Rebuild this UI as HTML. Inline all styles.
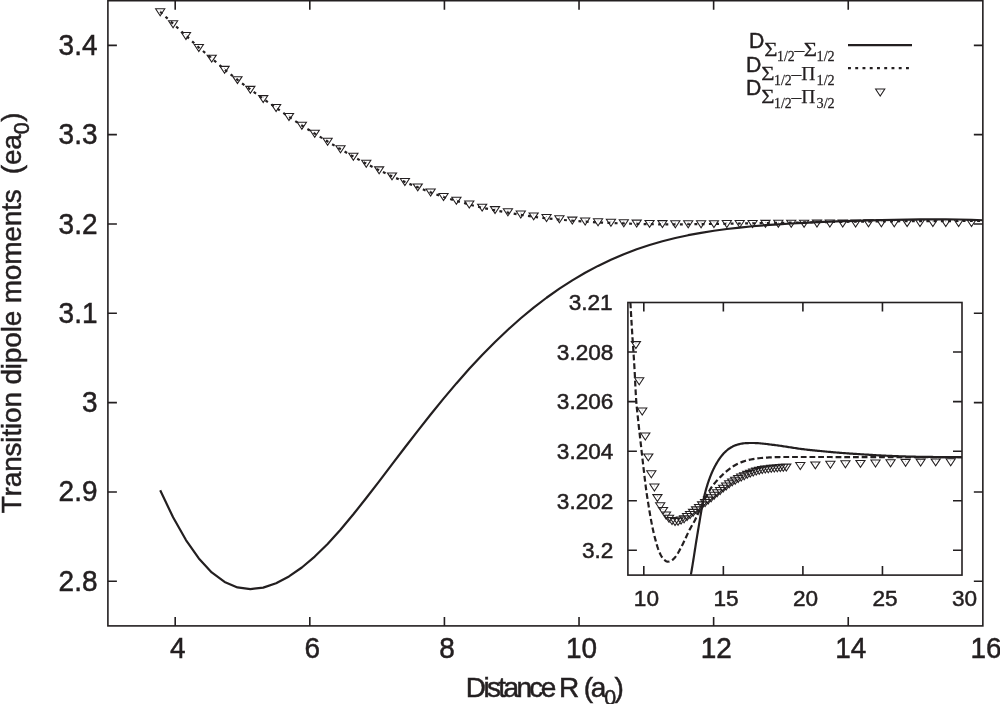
<!DOCTYPE html>
<html lang="en"><head><meta charset="utf-8"><title>Transition dipole moments</title>
<style>html,body{margin:0;padding:0;background:#fff}svg{display:block}text{font-family:"Liberation Sans",sans-serif;fill:#231f20;stroke:#231f20;stroke-width:0.5px;font-kerning:none}.s{font-family:"Liberation Serif",serif;stroke-width:0.25px}</style></head><body>
<svg width="1000" height="704" viewBox="0 0 1000 704">
<rect width="1000" height="704" fill="#fff"/>
<g fill="none" stroke="#231f20" stroke-width="1.6">
<rect x="107.9" y="0.7" width="874.95" height="625.20"/>
<path d="M175.20,625.9v-9.0M175.20,0.7v9.0M309.81,625.9v-9.0M309.81,0.7v9.0M444.42,625.9v-9.0M444.42,0.7v9.0M579.03,625.9v-9.0M579.03,0.7v9.0M713.63,625.9v-9.0M713.63,0.7v9.0M848.24,625.9v-9.0M848.24,0.7v9.0M107.9,581.24h9.0M982.85,581.24h-9.0M107.9,491.93h9.0M982.85,491.93h-9.0M107.9,402.61h9.0M982.85,402.61h-9.0M107.9,313.30h9.0M982.85,313.30h-9.0M107.9,223.99h9.0M982.85,223.99h-9.0M107.9,134.67h9.0M982.85,134.67h-9.0M107.9,45.36h9.0M982.85,45.36h-9.0"/>
<rect x="627.9" y="302.5" width="334.10" height="272.60"/>
<path d="M643.81,575.1v-9.0M643.81,302.5v9.0M723.36,575.1v-9.0M723.36,302.5v9.0M802.90,575.1v-9.0M802.90,302.5v9.0M882.45,575.1v-9.0M882.45,302.5v9.0M627.9,550.32h9.0M962.0,550.32h-9.0M627.9,500.75h9.0M962.0,500.75h-9.0M627.9,451.19h9.0M962.0,451.19h-9.0M627.9,401.63h9.0M962.0,401.63h-9.0M627.9,352.06h9.0M962.0,352.06h-9.0"/>
</g>
<g fill="none" stroke="#231f20" stroke-width="2.2" stroke-linejoin="round">
<path d="M160.20,490.31 L173.08,517.27 L185.96,540.08 L198.83,558.49 L211.71,572.42 L224.59,581.97 L237.47,587.40 L250.35,589.13 L263.22,587.62 L276.10,583.28 L288.98,576.47 L301.86,567.50 L314.74,556.58 L327.61,543.92 L340.49,529.72 L353.37,514.30 L366.25,498.04 L379.13,481.32 L392.00,464.42 L404.88,447.54 L417.76,430.85 L430.64,414.52 L443.52,398.67 L456.39,383.41 L469.27,368.83 L482.15,355.00 L495.03,341.95 L507.91,329.70 L520.78,318.26 L533.66,307.61 L546.54,297.75 L559.42,288.67 L572.30,280.35 L585.17,272.77 L598.05,265.90 L610.93,259.72 L623.81,254.21 L636.69,249.31 L649.56,245.01 L662.44,241.25 L675.32,238.00 L688.20,235.20 L701.08,232.80 L713.95,230.76 L726.83,229.02 L739.71,227.54 L752.59,226.28 L765.47,225.21 L778.34,224.29 L791.22,223.51 L804.10,222.82 L816.98,222.22 L829.86,221.69 L842.73,221.22 L855.61,220.79 L868.49,220.41 L881.37,220.07 L894.25,219.78 L907.12,219.55 L920.00,219.39 L932.88,219.32 L945.76,219.34 L958.64,219.50 L971.51,219.81 L982.80,220.24"/>
<path d="M160.20,11.79 L173.08,23.70 L185.96,35.62 L198.83,47.55 L211.71,58.28 L224.59,69.55 L237.47,79.83 L250.35,89.57 L263.22,98.85 L276.10,107.73 L288.98,116.87 L301.86,125.47 L314.74,133.61 L327.61,141.51 L340.49,149.17 L353.37,156.64 L366.25,163.70 L379.13,170.26 L392.00,176.32 L404.88,181.98 L417.76,187.35 L430.64,192.40 L443.52,197.06 L456.39,200.86 L469.27,204.53 L482.15,207.78 L495.03,210.34 L507.91,212.62 L520.78,214.84 L533.66,216.80 L546.54,218.41 L559.42,219.59 L572.30,220.73 L585.17,221.61 L598.05,222.44 L610.93,222.99 L623.81,223.45 L636.69,223.89 L649.56,224.20 L662.44,224.35 L675.32,224.37 L688.20,224.25 L701.08,224.12 L713.95,223.96 L726.83,223.75 L739.71,223.52 L752.59,223.29 L765.47,223.06 L778.34,222.84 L791.22,222.62 L804.10,222.40 L816.98,222.19 L829.86,222.00 L842.73,221.82 L855.61,221.68 L868.49,221.55 L881.37,221.42 L894.25,221.30 L907.12,221.21 L920.00,221.14 L932.88,221.10 L945.76,221.05 L958.64,221.02 L971.51,221.00 L982.85,221.00" stroke-dasharray="2.9 4.35"/>
<clipPath id="ic"><rect x="627.9" y="302.5" width="334.10" height="272.60"/></clipPath>
<g clip-path="url(#ic)"><path d="M690.90,574.60 L691.12,573.39 L691.33,572.17 L691.54,570.95 L691.75,569.74 L691.95,568.52 L692.16,567.31 L692.36,566.09 L692.56,564.87 L692.76,563.65 L692.95,562.44 L693.15,561.22 L693.34,560.00 L693.53,558.78 L693.73,557.56 L693.92,556.34 L694.11,555.13 L694.30,553.91 L694.49,552.69 L694.68,551.47 L694.86,550.25 L695.05,549.03 L695.24,547.81 L695.43,546.59 L695.62,545.37 L695.81,544.16 L696.01,542.94 L696.20,541.72 L696.39,540.50 L696.59,539.28 L696.79,538.07 L696.99,536.85 L697.19,535.63 L697.39,534.41 L697.59,533.20 L697.79,531.98 L697.99,530.76 L698.20,529.55 L698.40,528.33 L698.61,527.11 L698.81,525.90 L699.02,524.68 L699.22,523.46 L699.43,522.25 L699.63,521.03 L699.83,519.81 L700.03,518.60 L700.23,517.38 L700.43,516.16 L700.64,514.95 L700.84,513.73 L701.05,512.51 L701.26,511.30 L701.47,510.08 L701.68,508.87 L701.90,507.65 L702.13,506.44 L702.36,505.23 L702.59,504.02 L702.83,502.81 L703.08,501.60 L703.34,500.39 L703.60,499.19 L703.87,497.98 L704.15,496.78 L704.43,495.58 L704.73,494.38 L705.03,493.19 L705.34,491.99 L705.65,490.80 L705.98,489.61 L706.32,488.42 L706.66,487.24 L707.02,486.06 L707.38,484.88 L707.76,483.70 L708.14,482.53 L708.53,481.36 L708.94,480.19 L709.36,479.03 L709.78,477.87 L710.22,476.72 L710.67,475.57 L711.14,474.43 L711.61,473.29 L712.10,472.15 L712.60,471.03 L713.12,469.91 L713.65,468.79 L714.20,467.69 L714.76,466.59 L715.35,465.50 L715.94,464.42 L716.56,463.35 L717.19,462.29 L717.84,461.24 L718.51,460.21 L719.20,459.18 L719.91,458.17 L720.63,457.17 L721.38,456.18 L722.15,455.22 L722.95,454.28 L723.78,453.36 L724.63,452.47 L725.52,451.61 L726.44,450.78 L727.38,449.98 L728.36,449.22 L729.37,448.50 L730.40,447.82 L731.46,447.19 L732.55,446.60 L733.66,446.06 L734.79,445.57 L735.95,445.12 L737.12,444.72 L738.30,444.37 L739.50,444.06 L740.70,443.79 L741.92,443.57 L743.14,443.39 L744.37,443.25 L745.60,443.15 L746.83,443.08 L748.06,443.04 L749.30,443.01 L750.53,443.00 L751.76,442.99 L753.00,443.00 L754.23,443.02 L755.46,443.05 L756.70,443.10 L757.93,443.17 L759.16,443.25 L760.39,443.35 L761.61,443.47 L762.84,443.59 L764.07,443.73 L765.29,443.87 L766.52,444.02 L767.75,444.18 L768.97,444.33 L770.19,444.49 L771.42,444.65 L772.64,444.80 L773.87,444.96 L775.09,445.12 L776.31,445.28 L777.53,445.45 L778.76,445.61 L779.98,445.78 L781.20,445.96 L782.42,446.13 L783.64,446.31 L784.86,446.50 L786.08,446.68 L787.30,446.87 L788.52,447.06 L789.73,447.26 L790.95,447.45 L792.17,447.64 L793.39,447.83 L794.61,448.02 L795.83,448.20 L797.05,448.38 L798.27,448.56 L799.49,448.73 L800.71,448.90 L801.94,449.06 L803.16,449.21 L804.38,449.36 L805.61,449.51 L806.83,449.65 L808.06,449.79 L809.29,449.93 L810.51,450.06 L811.74,450.19 L812.97,450.31 L814.20,450.43 L815.42,450.56 L816.65,450.68 L817.88,450.80 L819.11,450.91 L820.34,451.03 L821.56,451.15 L822.79,451.27 L824.02,451.38 L825.25,451.50 L826.48,451.61 L827.70,451.73 L828.93,451.84 L830.16,451.95 L831.39,452.07 L832.62,452.18 L833.85,452.28 L835.08,452.39 L836.30,452.50 L837.53,452.60 L838.76,452.70 L839.99,452.80 L841.22,452.90 L842.45,452.99 L843.68,453.09 L844.91,453.18 L846.14,453.27 L847.37,453.36 L848.60,453.44 L849.83,453.53 L851.06,453.61 L852.30,453.70 L853.53,453.78 L854.76,453.86 L855.99,453.94 L857.22,454.02 L858.45,454.10 L859.68,454.18 L860.91,454.26 L862.14,454.34 L863.37,454.42 L864.61,454.49 L865.84,454.57 L867.07,454.65 L868.30,454.72 L869.53,454.80 L870.76,454.87 L871.99,454.95 L873.22,455.02 L874.46,455.09 L875.69,455.16 L876.92,455.23 L878.15,455.30 L879.38,455.37 L880.61,455.43 L881.85,455.50 L883.08,455.56 L884.31,455.62 L885.54,455.68 L886.77,455.74 L888.01,455.80 L889.24,455.85 L890.47,455.91 L891.70,455.96 L892.94,456.01 L894.17,456.06 L895.40,456.11 L896.63,456.16 L897.87,456.20 L899.10,456.25 L900.33,456.29 L901.56,456.33 L902.80,456.37 L904.03,456.41 L905.26,456.45 L906.50,456.49 L907.73,456.52 L908.96,456.55 L910.20,456.59 L911.43,456.62 L912.66,456.65 L913.90,456.67 L915.13,456.70 L916.36,456.73 L917.59,456.75 L918.83,456.77 L920.06,456.80 L921.29,456.82 L922.53,456.84 L923.76,456.86 L925.00,456.88 L926.23,456.90 L927.46,456.91 L928.70,456.93 L929.93,456.94 L931.16,456.96 L932.40,456.97 L933.63,456.99 L934.86,457.00 L936.10,457.01 L937.33,457.02 L938.56,457.03 L939.80,457.04 L941.03,457.05 L942.26,457.06 L943.50,457.07 L944.73,457.08 L945.96,457.09 L947.20,457.10 L948.43,457.11 L949.67,457.12 L950.90,457.13 L952.13,457.13 L953.37,457.14 L954.60,457.15 L955.83,457.16 L957.07,457.17 L958.30,457.17 L959.53,457.18 L960.77,457.19 L962.00,457.20"/>
<path d="M630.40,302.50 L630.51,304.55 L630.63,306.60 L630.74,308.64 L630.86,310.69 L630.98,312.74 L631.09,314.79 L631.21,316.84 L631.33,318.88 L631.45,320.93 L631.58,322.98 L631.70,325.03 L631.82,327.08 L631.95,329.12 L632.07,331.17 L632.20,333.22 L632.33,335.26 L632.47,337.31 L632.60,339.36 L632.74,341.41 L632.88,343.45 L633.02,345.50 L633.15,347.55 L633.29,349.59 L633.43,351.64 L633.57,353.69 L633.70,355.73 L633.84,357.78 L633.97,359.83 L634.10,361.87 L634.23,363.92 L634.35,365.97 L634.47,368.02 L634.58,370.07 L634.69,372.11 L634.80,374.16 L634.90,376.21 L634.99,378.26 L635.09,380.31 L635.19,382.36 L635.29,384.41 L635.39,386.46 L635.49,388.51 L635.60,390.56 L635.71,392.61 L635.83,394.65 L635.95,396.70 L636.09,398.75 L636.23,400.79 L636.39,402.84 L636.56,404.88 L636.75,406.92 L636.95,408.96 L637.16,411.00 L637.38,413.04 L637.60,415.08 L637.83,417.12 L638.05,419.16 L638.27,421.20 L638.49,423.24 L638.71,425.28 L638.93,427.32 L639.15,429.36 L639.38,431.40 L639.61,433.44 L639.84,435.48 L640.07,437.52 L640.30,439.55 L640.53,441.59 L640.76,443.63 L640.99,445.67 L641.22,447.71 L641.45,449.75 L641.68,451.78 L641.91,453.82 L642.14,455.86 L642.37,457.90 L642.60,459.94 L642.83,461.98 L643.07,464.01 L643.30,466.05 L643.54,468.09 L643.78,470.13 L644.02,472.16 L644.26,474.20 L644.50,476.24 L644.74,478.28 L644.98,480.31 L645.22,482.35 L645.47,484.39 L645.73,486.42 L645.99,488.46 L646.27,490.49 L646.55,492.52 L646.85,494.55 L647.15,496.58 L647.47,498.61 L647.78,500.63 L648.11,502.66 L648.44,504.68 L648.77,506.71 L649.10,508.73 L649.43,510.76 L649.77,512.78 L650.11,514.81 L650.46,516.83 L650.82,518.85 L651.19,520.87 L651.58,522.88 L651.98,524.89 L652.39,526.90 L652.82,528.91 L653.26,530.91 L653.72,532.91 L654.19,534.91 L654.69,536.90 L655.20,538.89 L655.74,540.87 L656.29,542.84 L656.86,544.83 L657.46,546.81 L658.10,548.76 L658.81,550.69 L659.58,552.56 L660.45,554.44 L661.46,556.32 L662.60,558.03 L663.93,559.47 L665.62,560.90 L667.48,561.76 L669.39,561.52 L671.37,560.61 L673.04,559.53 L674.48,558.07 L675.77,556.38 L676.95,554.72 L678.02,552.97 L679.03,551.17 L680.02,549.36 L680.99,547.56 L681.94,545.74 L682.86,543.90 L683.77,542.06 L684.66,540.22 L685.52,538.35 L686.37,536.48 L687.22,534.61 L688.09,532.76 L688.99,530.92 L689.95,529.10 L690.95,527.31 L691.97,525.53 L692.99,523.75 L694.00,521.96 L694.97,520.15 L695.88,518.32 L696.75,516.47 L697.59,514.60 L698.42,512.72 L699.24,510.84 L700.07,508.96 L700.91,507.09 L701.78,505.23 L702.67,503.38 L703.56,501.53 L704.46,499.68 L705.38,497.84 L706.33,496.03 L707.31,494.23 L708.33,492.45 L709.38,490.69 L710.47,488.94 L711.61,487.22 L712.79,485.55 L714.03,483.94 L715.37,482.38 L716.75,480.86 L718.16,479.35 L719.56,477.86 L720.99,476.38 L722.44,474.92 L723.92,473.51 L725.44,472.14 L727.01,470.81 L728.61,469.52 L730.26,468.29 L731.94,467.13 L733.67,466.02 L735.45,464.98 L737.26,464.02 L739.11,463.15 L741.00,462.35 L742.93,461.63 L744.87,460.99 L746.85,460.43 L748.84,459.92 L750.84,459.49 L752.86,459.09 L754.88,458.75 L756.92,458.47 L758.95,458.24 L760.99,458.03 L763.04,457.84 L765.08,457.67 L767.13,457.53 L769.18,457.42 L771.23,457.32 L773.28,457.23 L775.33,457.15 L777.38,457.08 L779.43,457.03 L781.48,457.00 L783.53,457.00 L785.58,457.00 L787.63,457.00 L789.68,457.00 L791.74,457.00 L793.79,457.00 L795.84,457.00 L797.89,457.00 L799.94,457.00 L801.99,457.00 L804.05,457.00 L806.10,457.00 L808.15,457.00 L810.20,457.00 L812.25,457.00 L814.30,457.01 L816.35,457.01 L818.40,457.01 L820.46,457.01 L822.51,457.01 L824.56,457.02 L826.61,457.02 L828.66,457.02 L830.71,457.02 L832.76,457.03 L834.82,457.03 L836.87,457.03 L838.92,457.04 L840.97,457.04 L843.02,457.04 L845.07,457.05 L847.12,457.05 L849.18,457.05 L851.23,457.06 L853.28,457.06 L855.33,457.06 L857.38,457.07 L859.43,457.07 L861.48,457.07 L863.53,457.08 L865.59,457.08 L867.64,457.08 L869.69,457.09 L871.74,457.09 L873.79,457.09 L875.84,457.09 L877.89,457.10 L879.95,457.10 L882.00,457.10 L884.05,457.10 L886.10,457.11 L888.15,457.11 L890.20,457.11 L892.25,457.12 L894.31,457.12 L896.36,457.12 L898.41,457.12 L900.46,457.13 L902.51,457.13 L904.56,457.13 L906.61,457.13 L908.66,457.14 L910.72,457.14 L912.77,457.14 L914.82,457.14 L916.87,457.15 L918.92,457.15 L920.97,457.15 L923.02,457.15 L925.08,457.16 L927.13,457.16 L929.18,457.16 L931.23,457.16 L933.28,457.17 L935.33,457.17 L937.38,457.17 L939.44,457.17 L941.49,457.18 L943.54,457.18 L945.59,457.18 L947.64,457.18 L949.69,457.19 L951.74,457.19 L953.79,457.19 L955.85,457.19 L957.90,457.20 L959.95,457.20 L962.00,457.20" stroke-dasharray="5.8 2.9"/></g>
<path d="M848,45.2H912"/>
<path d="M848,68.2H912" stroke-dasharray="2.9 4.35"/>
</g>
<g fill="none" stroke="#231f20" stroke-width="1.05">
<path d="M155.60,8.78L164.80,8.78L160.20,15.78ZM168.48,20.67L177.68,20.67L173.08,27.67ZM181.36,32.56L190.56,32.56L185.96,39.56ZM194.23,44.45L203.43,44.45L198.83,51.45ZM207.11,55.16L216.31,55.16L211.71,62.16ZM219.99,66.39L229.19,66.39L224.59,73.39ZM232.87,76.65L242.07,76.65L237.47,83.65ZM245.75,86.36L254.95,86.36L250.35,93.36ZM258.62,95.62L267.82,95.62L263.22,102.62ZM271.50,104.47L280.70,104.47L276.10,111.47ZM284.38,113.59L293.58,113.59L288.98,120.59ZM297.26,122.17L306.46,122.17L301.86,129.17ZM310.14,130.28L319.34,130.28L314.74,137.28ZM323.01,138.17L332.21,138.17L327.61,145.17ZM335.89,145.82L345.09,145.82L340.49,152.82ZM348.77,153.27L357.97,153.27L353.37,160.27ZM361.65,160.32L370.85,160.32L366.25,167.32ZM374.53,166.87L383.73,166.87L379.13,173.87ZM387.40,172.91L396.60,172.91L392.00,179.91ZM400.28,178.55L409.48,178.55L404.88,185.55ZM413.16,183.90L422.36,183.90L417.76,190.90ZM426.04,188.94L435.24,188.94L430.64,195.94ZM438.92,193.57L448.12,193.57L443.52,200.57ZM451.79,197.34L460.99,197.34L456.39,204.34ZM464.67,200.97L473.87,200.97L469.27,207.97ZM477.55,204.15L486.75,204.15L482.15,211.15ZM490.43,206.63L499.63,206.63L495.03,213.63ZM503.31,208.83L512.51,208.83L507.91,215.83ZM516.18,211.00L525.38,211.00L520.78,218.00ZM529.06,212.91L538.26,212.91L533.66,219.91ZM541.94,214.52L551.14,214.52L546.54,221.52ZM554.82,215.80L564.02,215.80L559.42,222.80ZM567.70,217.10L576.90,217.10L572.30,224.10ZM580.57,218.00L589.77,218.00L585.17,225.00ZM593.45,218.80L602.65,218.80L598.05,225.80ZM606.33,219.30L615.53,219.30L610.93,226.30ZM619.21,219.70L628.41,219.70L623.81,226.70ZM632.09,220.10L641.29,220.10L636.69,227.10ZM644.96,220.40L654.16,220.40L649.56,227.40ZM657.84,220.60L667.04,220.60L662.44,227.60ZM670.72,220.70L679.92,220.70L675.32,227.70ZM683.60,220.70L692.80,220.70L688.20,227.70ZM696.48,220.70L705.68,220.70L701.08,227.70ZM709.35,220.66L718.55,220.66L713.95,227.66ZM722.23,220.58L731.43,220.58L726.83,227.58ZM735.11,220.50L744.31,220.50L739.71,227.50ZM747.99,220.44L757.19,220.44L752.59,227.44ZM760.87,220.37L770.07,220.37L765.47,227.37ZM773.74,220.31L782.94,220.31L778.34,227.31ZM786.62,220.24L795.82,220.24L791.22,227.24ZM799.50,220.18L808.70,220.18L804.10,227.18ZM812.38,220.12L821.58,220.12L816.98,227.12ZM825.26,220.05L834.46,220.05L829.86,227.05ZM838.13,219.99L847.33,219.99L842.73,226.99ZM851.01,219.92L860.21,219.92L855.61,226.92ZM863.89,219.86L873.09,219.86L868.49,226.86ZM876.77,219.78L885.97,219.78L881.37,226.78ZM889.65,219.71L898.85,219.71L894.25,226.71ZM902.52,219.65L911.72,219.65L907.12,226.65ZM915.40,219.60L924.60,219.60L920.00,226.60ZM928.28,219.57L937.48,219.57L932.88,226.57ZM941.16,219.54L950.36,219.54L945.76,226.54ZM954.04,219.51L963.24,219.51L958.64,226.51ZM966.91,219.50L976.11,219.50L971.51,226.50Z"/>
<path d="M631.30,341.60L640.50,341.60L635.90,348.60ZM634.60,377.80L643.80,377.80L639.20,384.80ZM637.60,408.00L646.80,408.00L642.20,415.00ZM640.70,433.00L649.90,433.00L645.30,440.00ZM643.70,453.90L652.90,453.90L648.30,460.90ZM646.70,470.70L655.90,470.70L651.30,477.70ZM649.80,484.00L659.00,484.00L654.40,491.00ZM652.80,494.60L662.00,494.60L657.40,501.60ZM655.60,502.70L664.80,502.70L660.20,509.70ZM658.41,507.40L667.61,507.40L663.01,514.40ZM661.42,512.02L670.62,512.02L666.02,519.02ZM664.43,515.19L673.63,515.19L669.03,522.19ZM667.43,517.43L676.63,517.43L672.03,524.43ZM670.44,518.48L679.64,518.48L675.04,525.48ZM673.45,518.17L682.65,518.17L678.05,525.17ZM676.46,517.05L685.66,517.05L681.06,524.05ZM679.46,515.69L688.66,515.69L684.06,522.69ZM682.47,513.59L691.67,513.59L687.07,520.59ZM685.48,511.59L694.68,511.59L690.08,518.59ZM688.48,509.37L697.68,509.37L693.08,516.37ZM691.49,506.89L700.69,506.89L696.09,513.89ZM694.50,504.47L703.70,504.47L699.10,511.47ZM697.50,501.89L706.70,501.89L702.10,508.89ZM700.51,499.47L709.71,499.47L705.11,506.47ZM703.52,497.11L712.72,497.11L708.12,504.11ZM706.52,494.67L715.73,494.67L711.12,501.67ZM709.53,492.25L718.73,492.25L714.13,499.25ZM712.54,489.83L721.74,489.83L717.14,496.83ZM715.55,487.47L724.75,487.47L720.15,494.47ZM718.55,485.15L727.75,485.15L723.15,492.15ZM721.56,482.93L730.76,482.93L726.16,489.93ZM724.57,480.81L733.77,480.81L729.17,487.81ZM727.57,478.90L736.77,478.90L732.17,485.90ZM730.58,477.17L739.78,477.17L735.18,484.17ZM733.59,475.56L742.79,475.56L738.19,482.56ZM736.60,474.07L745.80,474.07L741.20,481.07ZM739.60,472.68L748.80,472.68L744.20,479.68ZM742.61,471.39L751.81,471.39L747.21,478.39ZM745.62,470.16L754.82,470.16L750.22,477.16ZM748.62,469.00L757.82,469.00L753.22,476.00ZM751.63,468.04L760.83,468.04L756.23,475.04ZM754.64,467.23L763.84,467.23L759.24,474.23ZM757.64,466.60L766.84,466.60L762.24,473.60ZM760.65,466.10L769.85,466.10L765.25,473.10ZM763.66,465.70L772.86,465.70L768.26,472.70ZM766.67,465.36L775.87,465.36L771.27,472.36ZM769.67,465.06L778.87,465.06L774.27,472.06ZM772.68,464.79L781.88,464.79L777.28,471.79ZM775.69,464.53L784.89,464.53L780.29,471.53ZM778.69,464.30L787.89,464.30L783.29,471.30ZM781.70,464.10L790.90,464.10L786.30,471.10ZM795.70,462.50L804.90,462.50L800.30,469.50ZM810.74,461.90L819.94,461.90L815.34,468.90ZM825.78,461.30L834.98,461.30L830.38,468.30ZM840.82,460.80L850.02,460.80L845.42,467.80ZM855.86,460.40L865.06,460.40L860.46,467.40ZM870.90,460.00L880.10,460.00L875.50,467.00ZM885.94,459.70L895.14,459.70L890.54,466.70ZM900.98,459.35L910.18,459.35L905.58,466.35ZM916.02,459.10L925.22,459.10L920.62,466.10ZM931.06,458.90L940.26,458.90L935.66,465.90ZM946.10,458.70L955.30,458.70L950.70,465.70Z"/>
<path d="M875.60,89.00L884.80,89.00L880.20,96.00Z"/>
</g>
<path fill="none" stroke="#231f20" stroke-opacity="0.55" stroke-width="0.8" stroke-linecap="round" d="M160.20,10.78h0.01M173.08,22.67h0.01M185.96,34.56h0.01M198.83,46.45h0.01M211.71,57.16h0.01M224.59,68.39h0.01M237.47,78.65h0.01M250.35,88.36h0.01M263.22,97.62h0.01M276.10,106.47h0.01M288.98,115.59h0.01M301.86,124.17h0.01M314.74,132.28h0.01M327.61,140.17h0.01M340.49,147.82h0.01M353.37,155.27h0.01M366.25,162.32h0.01M379.13,168.87h0.01M392.00,174.91h0.01M404.88,180.55h0.01M417.76,185.90h0.01M430.64,190.94h0.01M443.52,195.57h0.01M456.39,199.34h0.01M469.27,202.97h0.01M482.15,206.15h0.01M495.03,208.63h0.01M507.91,210.83h0.01M520.78,213.00h0.01M533.66,214.91h0.01M546.54,216.52h0.01M559.42,217.80h0.01M572.30,219.10h0.01M585.17,220.00h0.01M598.05,220.80h0.01M610.93,221.30h0.01M623.81,221.70h0.01M636.69,222.10h0.01M649.56,222.40h0.01M662.44,222.60h0.01M675.32,222.70h0.01M688.20,222.70h0.01M701.08,222.70h0.01M713.95,222.66h0.01M726.83,222.58h0.01M739.71,222.50h0.01M752.59,222.44h0.01M765.47,222.37h0.01M778.34,222.31h0.01M791.22,222.24h0.01M804.10,222.18h0.01M816.98,222.12h0.01M829.86,222.05h0.01M842.73,221.99h0.01M855.61,221.92h0.01M868.49,221.86h0.01M881.37,221.78h0.01M894.25,221.71h0.01M907.12,221.65h0.01M920.00,221.60h0.01M932.88,221.57h0.01M945.76,221.54h0.01M958.64,221.51h0.01M971.51,221.50h0.01M635.90,343.60h0.01M639.20,379.80h0.01M642.20,410.00h0.01M645.30,435.00h0.01M648.30,455.90h0.01M651.30,472.70h0.01M654.40,486.00h0.01M657.40,496.60h0.01M660.20,504.70h0.01M663.01,509.40h0.01M666.02,514.02h0.01M669.03,517.19h0.01M672.03,519.43h0.01M675.04,520.48h0.01M678.05,520.17h0.01M681.06,519.05h0.01M684.06,517.69h0.01M687.07,515.59h0.01M690.08,513.59h0.01M693.08,511.37h0.01M696.09,508.89h0.01M699.10,506.47h0.01M702.10,503.89h0.01M705.11,501.47h0.01M708.12,499.11h0.01M711.12,496.67h0.01M714.13,494.25h0.01M717.14,491.83h0.01M720.15,489.47h0.01M723.15,487.15h0.01M726.16,484.93h0.01M729.17,482.81h0.01M732.17,480.90h0.01M735.18,479.17h0.01M738.19,477.56h0.01M741.20,476.07h0.01M744.20,474.68h0.01M747.21,473.39h0.01M750.22,472.16h0.01M753.22,471.00h0.01M756.23,470.04h0.01M759.24,469.23h0.01M762.24,468.60h0.01M765.25,468.10h0.01M768.26,467.70h0.01M771.27,467.36h0.01M774.27,467.06h0.01M777.28,466.79h0.01M780.29,466.53h0.01M783.29,466.30h0.01M786.30,466.10h0.01M800.30,464.50h0.01M815.34,463.90h0.01M830.38,463.30h0.01M845.42,462.80h0.01M860.46,462.40h0.01M875.50,462.00h0.01M890.54,461.70h0.01M905.58,461.35h0.01M920.62,461.10h0.01M935.66,460.90h0.01M950.70,460.70h0.01M880.20,91.00h0.01"/>
<text transform="translate(97.5,54.9) scale(0.972,1)" font-size="28.81" text-anchor="end">3.4</text>
<text transform="translate(97.5,144.2) scale(0.972,1)" font-size="28.81" text-anchor="end">3.3</text>
<text transform="translate(97.5,233.5) scale(0.972,1)" font-size="28.81" text-anchor="end">3.2</text>
<text transform="translate(97.5,322.8) scale(0.972,1)" font-size="28.81" text-anchor="end">3.1</text>
<text transform="translate(97.5,412.1) scale(0.972,1)" font-size="28.81" text-anchor="end">3</text>
<text transform="translate(97.5,501.4) scale(0.972,1)" font-size="28.81" text-anchor="end">2.9</text>
<text transform="translate(97.5,590.7) scale(0.972,1)" font-size="28.81" text-anchor="end">2.8</text>
<text transform="translate(177.8,658.3) scale(0.972,1)" font-size="28.81" text-anchor="middle">4</text>
<text transform="translate(312.4,658.3) scale(0.972,1)" font-size="28.81" text-anchor="middle">6</text>
<text transform="translate(447.0,658.3) scale(0.972,1)" font-size="28.81" text-anchor="middle">8</text>
<text transform="translate(581.6,658.3) scale(0.972,1)" font-size="28.81" text-anchor="middle">10</text>
<text transform="translate(716.2,658.3) scale(0.972,1)" font-size="28.81" text-anchor="middle">12</text>
<text transform="translate(850.8,658.3) scale(0.972,1)" font-size="28.81" text-anchor="middle">14</text>
<text transform="translate(986.0,658.3) scale(0.972,1)" font-size="28.81" text-anchor="middle">16</text>
<text transform="translate(612.6,310.2) scale(0.99,1)" font-size="22.83" text-anchor="end">3.21</text>
<text transform="translate(613.4,359.8) scale(0.99,1)" font-size="22.83" text-anchor="end">3.208</text>
<text transform="translate(613.4,409.3) scale(0.99,1)" font-size="22.83" text-anchor="end">3.206</text>
<text transform="translate(613.4,458.9) scale(0.99,1)" font-size="22.83" text-anchor="end">3.204</text>
<text transform="translate(613.4,508.5) scale(0.99,1)" font-size="22.83" text-anchor="end">3.202</text>
<text transform="translate(613.4,558.0) scale(0.99,1)" font-size="22.83" text-anchor="end">3.2</text>
<text transform="translate(646.4,606.1) scale(0.99,1)" font-size="22.83" text-anchor="middle">10</text>
<text transform="translate(726.0,606.1) scale(0.99,1)" font-size="22.83" text-anchor="middle">15</text>
<text transform="translate(805.5,606.1) scale(0.99,1)" font-size="22.83" text-anchor="middle">20</text>
<text transform="translate(885.1,606.1) scale(0.99,1)" font-size="22.83" text-anchor="middle">25</text>
<text transform="translate(964.6,606.1) scale(0.99,1)" font-size="22.83" text-anchor="middle">30</text>
<text font-size="28.00" letter-spacing="-2.20" transform="translate(465.8,696.6) scale(1.0,1)" xml:space="preserve"><tspan letter-spacing="-2.64">Distance </tspan><tspan dx="0.30">R </tspan><tspan dx="1.00">(a</tspan><tspan font-size="21.40" dy="8.4">0</tspan><tspan dy="-8.4" dx="0.60">)</tspan></text>
<text font-size="28.00" letter-spacing="-0.18" transform="translate(20.8,513.3) rotate(-90) scale(1.0,1)" xml:space="preserve">Transition dipole moments&#160;&#160;(ea<tspan font-size="21.40" dy="8.4">0</tspan><tspan dy="-8.4" dx="0.90">)</tspan></text>
<text transform="translate(756.7,48.3) scale(0.93,1)" text-anchor="middle" font-size="22.8">D</text><text class="s" transform="translate(770.9,56.4) scale(1.17,1)" text-anchor="middle" font-size="19.5">Σ</text><text class="s" transform="translate(785.8,61.3) scale(0.92,1)" text-anchor="middle" font-size="15.0">1/2</text><text class="s" transform="translate(799.3,56.4) scale(1.0,1)" text-anchor="middle" font-size="19.5">–</text><text class="s" transform="translate(810.3,56.4) scale(1.17,1)" text-anchor="middle" font-size="19.5">Σ</text><text class="s" transform="translate(825.6,61.3) scale(0.95,1)" text-anchor="middle" font-size="15.0">1/2</text>
<text transform="translate(753.7,71.6) scale(0.93,1)" text-anchor="middle" font-size="22.8">D</text><text class="s" transform="translate(767.9,79.7) scale(1.17,1)" text-anchor="middle" font-size="19.5">Σ</text><text class="s" transform="translate(782.8,84.6) scale(0.92,1)" text-anchor="middle" font-size="15.0">1/2</text><text class="s" transform="translate(796.3,79.7) scale(1.0,1)" text-anchor="middle" font-size="19.5">–</text><text class="s" transform="translate(808.2,79.7) scale(1.0,1)" text-anchor="middle" font-size="19.5">Π</text><text class="s" transform="translate(825.6,84.6) scale(0.95,1)" text-anchor="middle" font-size="15.0">1/2</text>
<text transform="translate(753.7,95.0) scale(0.93,1)" text-anchor="middle" font-size="22.8">D</text><text class="s" transform="translate(767.9,103.1) scale(1.17,1)" text-anchor="middle" font-size="19.5">Σ</text><text class="s" transform="translate(782.8,108.0) scale(0.92,1)" text-anchor="middle" font-size="15.0">1/2</text><text class="s" transform="translate(796.3,103.1) scale(1.0,1)" text-anchor="middle" font-size="19.5">–</text><text class="s" transform="translate(808.2,103.1) scale(1.0,1)" text-anchor="middle" font-size="19.5">Π</text><text class="s" transform="translate(825.6,108.0) scale(0.95,1)" text-anchor="middle" font-size="15.0">3/2</text>
</svg></body></html>
